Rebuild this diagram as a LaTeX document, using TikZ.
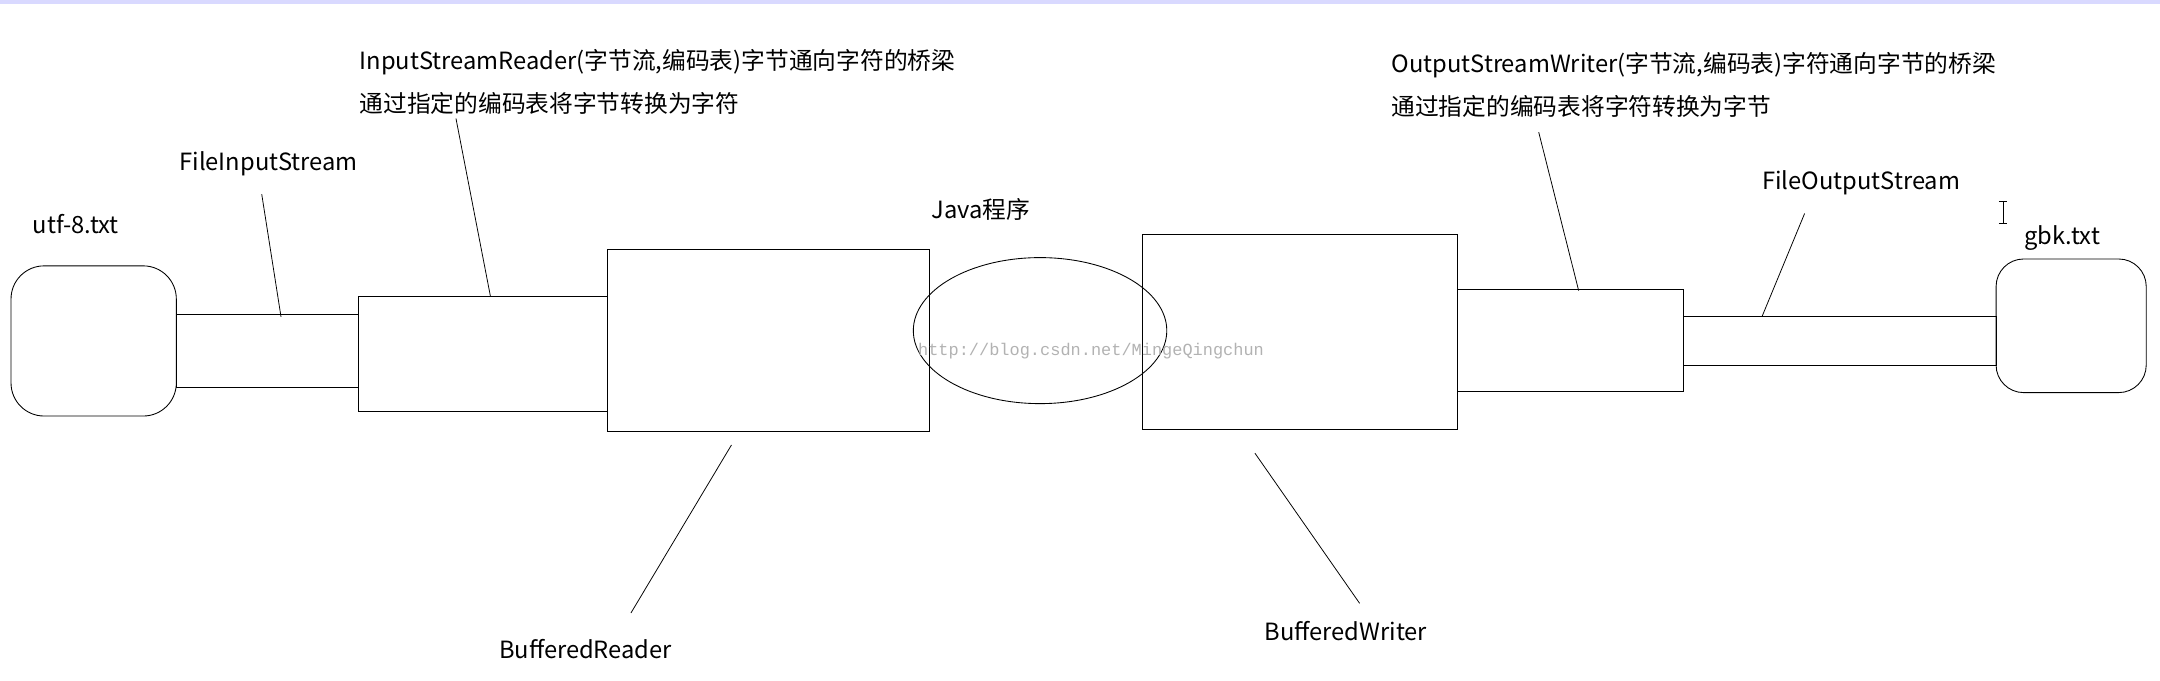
\documentclass[tikz,border=0pt]{standalone}
\usepackage{fontspec}
\setmainfont{Noto Sans CJK SC}
\newfontfamily\wm{Liberation Mono}
\begin{document}
\begin{tikzpicture}[x=0.5mm,y=-0.5mm,
  box/.style={draw,line width=0.9pt},
  lbl/.style={font=\fontsize{24.5}{28}\selectfont,inner sep=0pt},
  ln/.style={line width=0.8pt}]
\useasboundingbox (0,0) rectangle (1568,494);
\fill[blue!15] (0,0) rectangle (1568,3);
% nodes
\draw[box,rounded corners=12mm] (8,193) rectangle (128,302);
\draw[box] (128,228) rectangle (260,281);
\draw[box] (260,215) rectangle (441,299);
\draw[box] (441,181) rectangle (675,313);
\draw[box] (755,240) ellipse [x radius=92,y radius=53];
\draw[box] (829,170) rectangle (1058,312);
\draw[box] (1058,210) rectangle (1222,284);
\draw[box] (1222,230) rectangle (1449,265);
\draw[box,rounded corners=10mm] (1449,188) rectangle (1558,285);
% labels
\node[lbl] (utf) at (55,163) {utf-8.txt};
\node[lbl] (fis) at (195,119) {FileInputStream};
\node[lbl,anchor=west] (isr1) at (261,45) {InputStreamReader(字节流,编码表)字节通向字符的桥梁};
\node[lbl,anchor=west] (isr2) at (261,75) {通过指定的编码表将字节转换为字符};
\node[lbl] (java) at (712,152) {Java程序};
\node[lbl,anchor=west] (osw1) at (1010,47) {OutputStreamWriter(字节流,编码表)字符通向字节的桥梁};
\node[lbl,anchor=west] (osw2) at (1010,77) {通过指定的编码表将字符转换为字节};
\node[lbl] (fos) at (1351,133) {FileOutputStream};
\node[lbl] (gbk) at (1497,173) {gbk.txt};
\node[lbl] (br) at (425,471) {BufferedReader};
\node[lbl] (bw) at (977,458) {BufferedWriter};
\node[font=\wm\fontsize{17.5}{20}\selectfont,text=gray!60] (wmk) at (792,255) {http://blog.csdn.net/MingeQingchun};
% leader lines
\coordinate (a1) at (190,141); \coordinate (a2) at (204,230);
\coordinate (b1) at (331,86);  \coordinate (b2) at (356,215);
\coordinate (c1) at (531,323); \coordinate (c2) at (458,445);
\coordinate (d1) at (911,329); \coordinate (d2) at (987,438);
\coordinate (e1) at (1117,96); \coordinate (e2) at (1146,211);
\coordinate (f1) at (1310,155); \coordinate (f2) at (1279,230);
\draw[ln] (a1)--(a2); \draw[ln] (b1)--(b2); \draw[ln] (c1)--(c2);
\draw[ln] (d1)--(d2); \draw[ln] (e1)--(e2); \draw[ln] (f1)--(f2);
% cursor
\draw[line width=0.8pt] (1451,146)--(1457,146) (1454,146)--(1454,162) (1451,162)--(1457,162);
\end{tikzpicture}
\end{document}
